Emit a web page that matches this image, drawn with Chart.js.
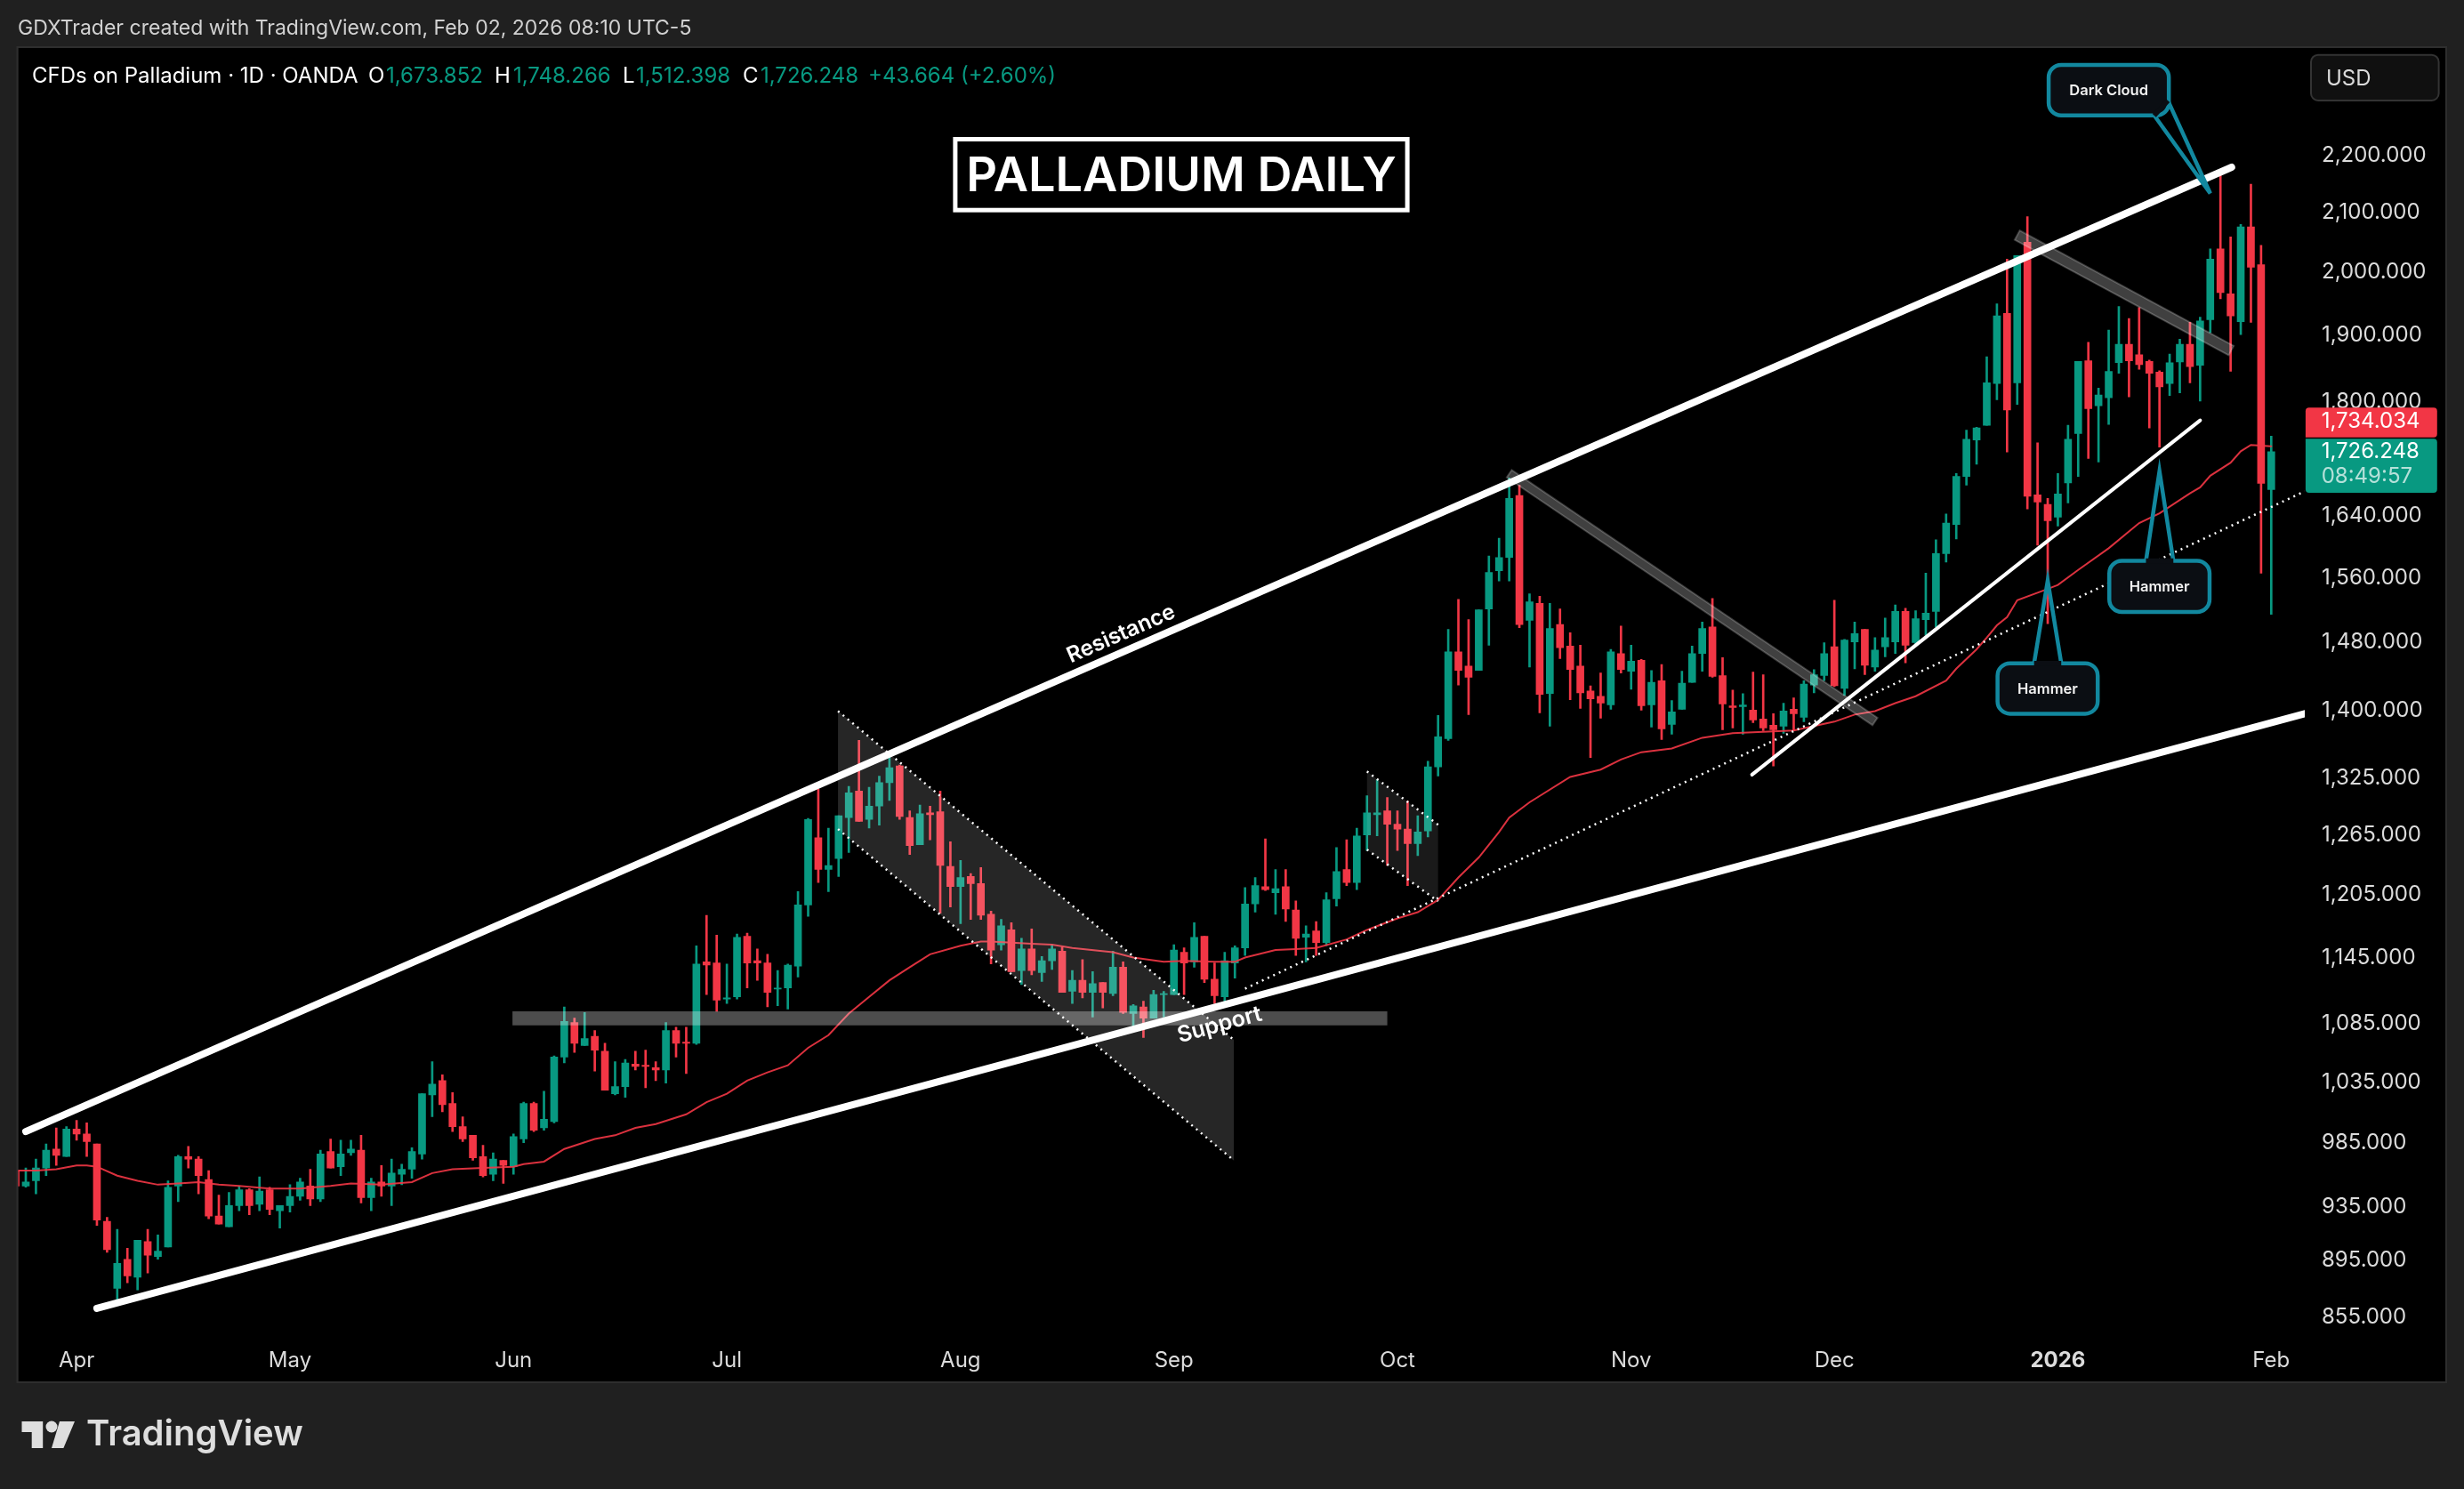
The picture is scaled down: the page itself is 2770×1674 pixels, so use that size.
<!DOCTYPE html>
<html>
<head>
<meta charset="utf-8">
<title>Palladium daily</title>
<script src="https://cdn.jsdelivr.net/npm/chart.js@4/dist/chart.umd.min.js"></script>
<style>
html,body{margin:0;padding:0;background:#202020;}
canvas{display:block;}
</style>
</head>
<body>
<canvas id="grafico" width="2770" height="1674"></canvas>
<script>
// daily candles, first bar sits one step before bar 0 and is mostly cut by the pane edge
const opens=[
962,950,954,964,979,973,995,991,983,923,
874,895,882,908,897,904,950,973,971,955,
927,919,935,947,936,947,931,935,942,950,
940,977,965,976,978,941,953,950,959,963,
975,1023,1035,1016,997,990,973,959,970,965,
987,1016,996,1001,1055,1085,1065,1073,1060,1024,
1030,1049,1048,1046,1044,1078,1068,1067,1140,1139,
1106,1108,1164,1141,1139,1115,1116,1136,1194,1261,
1229,1240,1282,1310,1280,1294,1319,1337,1282,1254,
1287,1288,1232,1212,1222,1215,1185,1156,1170,1132,
1152,1130,1141,1150,1113,1123,1112,1121,1111,1135,
1093,1099,1089,1110,1110,1149,1140,1164,1124,1108,
1139,1153,1195,1212,1206,1212,1189,1163,1169,1158,
1200,1229,1216,1264,1285,1289,1275,1270,1255,1268,
1336,1367,1467,1450,1445,1519,1567,1584,1666,1505,
1526,1418,1500,1474,1450,1421,1415,1405,1465,1444,
1457,1405,1433,1383,1400,1431,1465,1497,1439,1404,
1403,1399,1389,1382,1381,1400,1391,1428,1439,1473,
1424,1479,1494,1449,1473,1479,1516,1478,1506,1516,
1589,1627,1692,1743,1764,1825,1932,1826,2047,1667,
1654,1637,1683,1752,1859,1792,1804,1856,1884,1868,
1858,1842,1825,1857,1884,1852,1922,2036,1963,1919,
2073,2010,1673.852];
const highs=[
965,964,971,983,996,997,1002,1000,983,926,
917,903,909,917,913,954,974,981,973,962,
943,945,950,948,957,949,935,951,956,963,
978,987,986,986,990,956,966,971,967,980,
1024,1051,1040,1025,1005,990,982,976,970,991,
1017,1017,1026,1056,1099,1089,1094,1078,1067,1051,
1053,1060,1061,1051,1085,1081,1081,1155,1184,1165,
1138,1166,1167,1152,1147,1132,1138,1207,1281,1312,
1271,1284,1315,1365,1314,1326,1348,1338,1289,1295,
1294,1310,1257,1238,1225,1231,1188,1180,1177,1162,
1171,1145,1156,1154,1132,1142,1131,1121,1150,1140,
1101,1104,1114,1113,1156,1153,1177,1164,1139,1149,
1155,1211,1221,1260,1229,1229,1198,1174,1178,1206,
1251,1259,1271,1305,1322,1303,1289,1299,1284,1342,
1393,1494,1531,1506,1518,1586,1609,1690,1680,1538,
1535,1526,1519,1490,1475,1427,1442,1470,1498,1475,
1458,1445,1452,1410,1444,1474,1503,1532,1460,1422,
1418,1443,1440,1395,1407,1413,1433,1446,1478,1530,
1482,1503,1494,1484,1508,1524,1520,1517,1564,1607,
1641,1696,1757,1761,1865,1947,2019,2025,2090,1739,
1662,1696,1764,1858,1887,1818,1906,1943,1924,1941,
1860,1844,1869,1892,1918,1926,2036,2161,2056,2077,
2146,2042,1748.266];
const lows=[
948,949,944,958,966,973,986,973,920,900,
866,878,873,885,895,904,938,964,944,925,
921,919,931,928,931,928,918,930,939,935,
938,964,958,974,937,931,942,935,951,956,
971,1005,1009,993,985,970,957,954,952,959,
984,993,994,1000,1050,1059,1065,1043,1027,1023,
1021,1044,1029,1035,1033,1055,1041,1066,1110,1095,
1102,1106,1116,1123,1099,1100,1097,1126,1183,1216,
1207,1222,1246,1278,1271,1274,1300,1280,1244,1254,
1259,1186,1192,1176,1180,1180,1138,1151,1131,1119,
1128,1122,1133,1112,1102,1107,1090,1098,1109,1093,
1082,1072,1089,1090,1110,1110,1135,1121,1102,1104,
1125,1146,1187,1208,1185,1178,1146,1140,1146,1155,
1193,1213,1209,1248,1263,1233,1248,1213,1243,1262,
1326,1365,1428,1394,1445,1475,1554,1554,1496,1449,
1396,1381,1459,1411,1401,1346,1390,1400,1442,1423,
1399,1380,1366,1372,1400,1431,1444,1437,1377,1379,
1372,1385,1376,1337,1373,1376,1386,1419,1433,1426,
1416,1447,1440,1444,1461,1465,1454,1476,1487,1497,
1578,1608,1680,1709,1764,1801,1726,1794,1648,1600,
1501,1625,1656,1692,1717,1712,1765,1840,1805,1846,
1760,1733,1807,1811,1826,1799,1902,1955,1843,1899,
1918,1564,1512.398];
const closes=[
950,953,964,978,974,995,991,985,924,902,
892,883,909,898,901,949,973,971,958,927,
921,935,947,935,946,932,935,942,953,940,
975,964,975,979,941,953,950,960,963,977,
1024,1032,1015,997,987,972,958,971,966,989,
1016,994,1003,1055,1086,1067,1071,1061,1027,1030,
1050,1047,1047,1044,1078,1067,1067,1138,1137,1105,
1107,1163,1139,1139,1112,1116,1137,1194,1280,1229,
1233,1284,1308,1278,1294,1319,1335,1283,1253,1286,
1285,1233,1212,1221,1215,1184,1151,1174,1131,1152,
1132,1141,1152,1112,1123,1112,1120,1112,1135,1094,
1100,1089,1110,1111,1151,1139,1163,1124,1109,1141,
1153,1195,1213,1209,1210,1190,1162,1166,1158,1199,
1227,1216,1263,1287,1287,1275,1270,1255,1267,1336,
1369,1467,1445,1437,1518,1565,1584,1662,1500,1528,
1417,1495,1472,1446,1419,1412,1407,1467,1446,1456,
1404,1431,1378,1397,1430,1465,1495,1438,1406,1402,
1405,1388,1379,1377,1398,1395,1429,1440,1465,1427,
1481,1489,1451,1469,1484,1516,1475,1507,1514,1589,
1629,1692,1744,1760,1826,1928,1786,2025,1665,1657,
1632,1668,1744,1858,1788,1808,1843,1884,1859,1853,
1840,1820,1856,1884,1850,1920,2019,1965,1928,2073,
2006,1682.584,1726.248];

// moving average, read at these bars only
const maBars=[-1,1,3,5,6,7,9,11,13,15,17,19,21,24,27,30,32,35,38,40,42,45,48,49,51,53,56,58,60,62,65,67,69,71,73,75,77,79,81,83,85,87,89,92,94,95,99,101,103,107,109,112,114,117,119,120,123,125,127,130,132,135,137,139,141,143,145,146,148,152,155,157,159,162,165,168,172,174,176,178,180,182,184,186,189,190,192,193,194,195,196,199,200,202,205,208,210,213,214,215,217,218,219,221];
const maValues=[962,962,963,966,966,965,958,954,951,952,953,951,950,948,948,950,952,951,953,960,963,964,965,967,969,979,987,990,996,999,1007,1017,1024,1035,1042,1048,1063,1074,1093,1108,1123,1135,1147,1155,1159,1159,1157,1156,1153,1149,1144,1140,1141,1140,1140,1144,1151,1152,1153,1161,1170,1181,1187,1199,1221,1241,1267,1282,1298,1325,1333,1344,1352,1356,1368,1373,1375,1376,1381,1386,1394,1398,1407,1415,1433,1447,1470,1484,1499,1509,1530,1544,1549,1568,1596,1629,1642,1669,1677,1693,1711,1727,1736,1734.034];

// axis labels
const priceTicks=[2200,2100,2000,1900,1800,1640,1560,1480,1400,1325,1265,1205,1145,1085,1035,985,935,895,855];
const monthBars=[5,26,48,69,92,113,135,158,178,200,221];
const monthLabels=["Apr","May","Jun","Jul","Aug","Sep","Oct","Nov","Dec","2026","Feb"];

// drawings on the chart, as [bar, price] pairs
const resistanceLine=[[0,993],[217.1,2176]];
const supportLine=[[7,860],[224.3,1395]];
const risingLine=[[169.9,1327.5],[214,1771]];
const dottedLine=[[120,1115.4],[224.3,1671.7]];
const flatBand=[[47.9,1095],[134,1095],[134,1082.5],[47.9,1082.5]];
const bigChannel=[[79.94,1398],[118.9,1069.9],[118.9,969.9],[79.94,1270]];
const smallChannel=[[132,1331],[139,1274.5],[139,1197.5],[132,1249]];
const slantA=[[146,1695.7],[182,1386.2]];
const slantB=[[196,2058.9],[217.06,1874.4]];

const verde="#089981", rosso="#F23645", testo="#dbdbdb", teal="#12889f";
const fontBase="Inter, Roboto, sans-serif";

var barIdx=opens.map(function(o,i){return i-1;});
var coloriCandele=opens.map(function(o,i){return closes[i]<opens[i]?rosso:verde;});

function linea(punti,colore,spessore,ordine,dash){
    return {
        type:'line',
        data:punti.map(function(p){return {x:p[0],y:p[1]};}),
        borderColor:colore,
        borderWidth:spessore,
        borderDash:dash||[],
        borderCapStyle:dash?'butt':'round',
        pointRadius:0,
        tension:0,
        order:ordine
    };
}

function px(chart,p){
    return [chart.scales.x.getPixelForValue(p[0]),chart.scales.y.getPixelForValue(p[1])];
}

function poligono(ctx,pts){
    ctx.beginPath();
    pts.forEach(function(p,i){ if(i==0) ctx.moveTo(p[0],p[1]); else ctx.lineTo(p[0],p[1]); });
    ctx.closePath();
}

//barra inclinata grigia, larga w pixel, tra due punti del grafico
function barraInclinata(chart,seg,w){
    var ctx=chart.ctx, a=px(chart,seg[0]), b=px(chart,seg[1]);
    var dx=b[0]-a[0], dy=b[1]-a[1], len=Math.hypot(dx,dy);
    var nx=-dy/len*w/2, ny=dx/len*w/2;
    poligono(ctx,[[a[0]+nx,a[1]+ny],[b[0]+nx,b[1]+ny],[b[0]-nx,b[1]-ny],[a[0]-nx,a[1]-ny]]);
    ctx.fillStyle="rgba(255,255,255,0.25)";
    ctx.fill();
    ctx.strokeStyle="rgba(255,255,255,0.22)";
    ctx.lineWidth=2;
    ctx.stroke();
}

function canale(chart,pts,alpha){
    var ctx=chart.ctx, q=pts.map(function(p){return px(chart,p);});
    poligono(ctx,q);
    ctx.fillStyle="rgba(255,255,255,"+alpha+")";
    ctx.fill();
    ctx.strokeStyle="#ffffff";
    ctx.lineWidth=2.5;
    ctx.setLineDash([2,5]);
    ctx.beginPath(); ctx.moveTo(q[0][0],q[0][1]); ctx.lineTo(q[1][0],q[1][1]); ctx.stroke();
    ctx.beginPath(); ctx.moveTo(q[3][0],q[3][1]); ctx.lineTo(q[2][0],q[2][1]); ctx.stroke();
    ctx.setLineDash([]);
}

function testoRuotato(chart,punto,str,angolo,font){
    var ctx=chart.ctx, p=px(chart,punto);
    ctx.save();
    ctx.translate(p[0],p[1]);
    ctx.rotate(angolo*Math.PI/180);
    ctx.font=font;
    ctx.fillStyle="#ffffff";
    ctx.textAlign="center";
    ctx.textBaseline="middle";
    ctx.fillText(str,0,0);
    ctx.restore();
}

//callout con punta sul grafico: box e base della punta sono relativi alla punta
function callout(chart,punta,box,base,str,raggio){
    var ctx=chart.ctx, t=px(chart,punta);
    var x0=t[0]+box[0], y0=t[1]+box[1], x1=x0+box[2], y1=y0+box[3];
    ctx.beginPath();
    ctx.roundRect(x0,y0,box[2],box[3],raggio);
    ctx.fillStyle="#0b0e13";
    ctx.fill();
    // la punta esce dal bordo del box: si ridisegna il contorno completo
    ctx.beginPath();
    ctx.moveTo(t[0]+base[0][0],t[1]+base[0][1]);
    ctx.lineTo(t[0],t[1]);
    ctx.lineTo(t[0]+base[1][0],t[1]+base[1][1]);
    ctx.strokeStyle=teal;
    ctx.lineWidth=4.5;
    ctx.lineJoin="miter";
    ctx.stroke();
    ctx.beginPath();
    ctx.roundRect(x0,y0,box[2],box[3],raggio);
    ctx.stroke();
    // apertura del box sotto la punta
    ctx.beginPath();
    ctx.moveTo(t[0]+base[0][0],t[1]+base[0][1]);
    ctx.lineTo(t[0]+base[1][0],t[1]+base[1][1]);
    ctx.strokeStyle="#0b0e13";
    ctx.lineWidth=5.5;
    ctx.stroke();
    ctx.font="600 16.5px "+fontBase;
    ctx.fillStyle="#f2f2f2";
    ctx.textAlign="center";
    ctx.textBaseline="middle";
    ctx.fillText(str,(x0+x1)/2,(y0+y1)/2+1);
}

function scrivi(ctx,str,x,y,colore,font,align){
    ctx.font=font;
    ctx.fillStyle=colore;
    ctx.textAlign=align||"left";
    ctx.textBaseline="middle";
    ctx.fillText(str,x,y);
}

const sfondo={
    id:'sfondo',
    beforeDraw:function(chart){
        var ctx=chart.ctx;
        ctx.save();
        ctx.fillStyle="#202020";
        ctx.fillRect(0,0,2770,1674);
        ctx.fillStyle="#000000";
        ctx.fillRect(20.5,54,2728.5,1499);
        ctx.strokeStyle="#2e2e2e";
        ctx.lineWidth=2;
        ctx.strokeRect(19.5,53,2730.5,1501);
        ctx.restore();
    }
};

const disegni={
    id:'disegni',
    afterDatasetsDraw:function(chart){
        var ctx=chart.ctx, a=chart.chartArea;
        ctx.save();
        ctx.beginPath();
        ctx.rect(a.left,a.top,a.right-a.left,a.bottom-a.top);
        ctx.clip();

        canale(chart,bigChannel,0.15);
        canale(chart,smallChannel,0.1);

        var banda=flatBand.map(function(p){return px(chart,p);});
        poligono(ctx,banda);
        ctx.fillStyle="rgba(255,255,255,0.3)";
        ctx.fill();

        barraInclinata(chart,slantA,10);
        barraInclinata(chart,slantB,12);

        testoRuotato(chart,[107.8,1488.4],"Resistance",-23.6,"600 24.5px "+fontBase);
        testoRuotato(chart,[117.5,1083],"Support",-15.1,"600 25px "+fontBase);

        callout(chart,[199,1554.6],[-56.4,93,112.6,56.7],[[-15.3,93],[15.2,93]],"Hammer",14);
        callout(chart,[210,1699.4],[-56.4,101,112.7,57.3],[[-15.2,101],[15.6,101]],"Hammer",14);
        callout(chart,[215,2130],[-181.7,-144.4,135.1,56.7],[[-63,-87.7],[-47.6,-104.4]],"Dark Cloud",14);

        // titolo
        ctx.strokeStyle="#ffffff";
        ctx.lineWidth=5;
        ctx.strokeRect(1073.9,156.5,508.2,79.7);
        scrivi(ctx,"PALLADIUM DAILY",1328,199,"#ffffff","600 54px "+fontBase,"center");
        ctx.restore();
    },
    afterDraw:function(chart){
        var ctx=chart.ctx;
        ctx.save();
        //riga in alto
        scrivi(ctx,"GDXTrader created with TradingView.com, Feb 02, 2026 08:10 UTC-5",20,32,"#d1d1d1","400 23px "+fontBase);

        //legenda con i valori OHLC dell'ultima candela
        var f="400 24px "+fontBase;
        scrivi(ctx,"CFDs on Palladium · 1D · OANDA",36,86,"#ffffff",f);
        var nomi=["O","H","L","C"], xNomi=[414,556,700,835];
        var val=[opens,highs,lows,closes], xVal=[434,577,715,855];
        nomi.forEach(function(n,i){
            scrivi(ctx,n,xNomi[i],86,"#ffffff",f);
            var v=val[i][val[i].length-1];
            scrivi(ctx,v.toLocaleString("en-US",{minimumFractionDigits:3}),xVal[i],86,verde,f);
        });
        scrivi(ctx,"+43.664",976,86,verde,f);
        scrivi(ctx,"(+2.60%)",1080,86,verde,f);

        //pulsante valuta
        ctx.beginPath();
        ctx.roundRect(2598,61.7,143.6,51.3,8);
        ctx.fillStyle="#101010";
        ctx.fill();
        ctx.strokeStyle="#333333";
        ctx.lineWidth=2;
        ctx.stroke();
        scrivi(ctx,"USD",2615,88.5,testo,"400 24px "+fontBase);

        //etichette di prezzo
        ctx.beginPath();
        ctx.roundRect(2591.9,458.3,147.9,33.4,[4,4,4,0]);
        ctx.fillStyle=rosso;
        ctx.fill();
        scrivi(ctx,maValues[maValues.length-1].toLocaleString("en-US",{minimumFractionDigits:3}),2609.7,474,"#ffffff","400 24px "+fontBase);
        ctx.beginPath();
        ctx.roundRect(2591.9,493.3,147.9,60.7,[0,4,4,4]);
        ctx.fillStyle=verde;
        ctx.fill();
        scrivi(ctx,closes[closes.length-1].toLocaleString("en-US",{minimumFractionDigits:3}),2609.7,508,"#ffffff","400 24px "+fontBase);
        scrivi(ctx,"08:49:57",2609.7,536,"rgba(255,255,255,0.7)","400 24px "+fontBase);

        //logo
        ctx.fillStyle="#dedede";
        poligono(ctx,[[24.5,1598],[48.2,1598],[48.2,1628],[35.7,1628],[35.7,1610],[24.5,1610]]);
        ctx.fill();
        ctx.beginPath();
        ctx.arc(58,1604,6.5,0,Math.PI*2);
        ctx.fill();
        poligono(ctx,[[67,1598],[84,1598],[71.4,1628],[58,1628]]);
        ctx.fill();
        scrivi(ctx,"TradingView",97,1613,"#dedede","600 40px "+fontBase);
        ctx.restore();
    }
};

new Chart(document.getElementById("grafico").getContext('2d'),{
    type:'bar',
    data:{
        datasets:[
            {   //corpo candele
                data:barIdx.map(function(b,i){return {x:b,y:[opens[i],closes[i]]};}),
                backgroundColor:coloriCandele,
                borderWidth:0,
                barThickness:8,
                grouped:false,
                order:10
            },
            {   //ombre
                data:barIdx.map(function(b,i){return {x:b,y:[lows[i],highs[i]]};}),
                backgroundColor:coloriCandele,
                borderWidth:0,
                barThickness:2,
                grouped:false,
                order:11
            },
            linea(maBars.map(function(b,i){return [b,maValues[i]];}),"rgba(242,54,69,0.9)",2,5),
            linea(dottedLine,"#ffffff",2.5,4,[2,5]),
            linea(risingLine,"#ffffff",4,3),
            linea(supportLine,"#ffffff",8,2),
            linea(resistanceLine,"#ffffff",8,1)
        ]
    },
    options:{
        responsive:false,
        animation:false,
        layout:{padding:{left:20.5,top:54,right:21,bottom:121}},
        plugins:{legend:{display:false},tooltip:{enabled:false},title:{display:false}},
        scales:{
            x:{
                type:'linear',
                offset:false,
                bounds:'data',
                min:-0.744,
                max:224.3,
                grid:{display:false,drawTicks:false},
                border:{display:false},
                afterBuildTicks:function(s){ s.ticks=monthBars.map(function(b){return {value:b};}); },
                afterFit:function(s){ s.height=46; },
                ticks:{
                    autoSkip:false,
                    maxRotation:0,
                    padding:8,
                    color:testo,
                    font:function(c){
                        return {family:fontBase,size:24,weight:(c.tick&&c.tick.value==200)?'700':'400'};
                    },
                    callback:function(v){ return monthLabels[monthBars.indexOf(v)]; }
                }
            },
            y:{
                type:'logarithmic',
                position:'right',
                bounds:'data',
                min:837.8,
                max:2397.5,
                grid:{display:false,drawTicks:false},
                border:{display:false},
                afterBuildTicks:function(s){ s.ticks=priceTicks.map(function(v){return {value:v};}); },
                afterFit:function(s){ s.width=158; },
                ticks:{
                    autoSkip:false,
                    padding:19,
                    labelOffset:1.5,
                    color:testo,
                    font:{family:fontBase,size:24},
                    callback:function(v){ return v.toLocaleString("en-US",{minimumFractionDigits:3}); }
                }
            }
        }
    },
    plugins:[sfondo,disegni]
});
</script>
</body>
</html>
